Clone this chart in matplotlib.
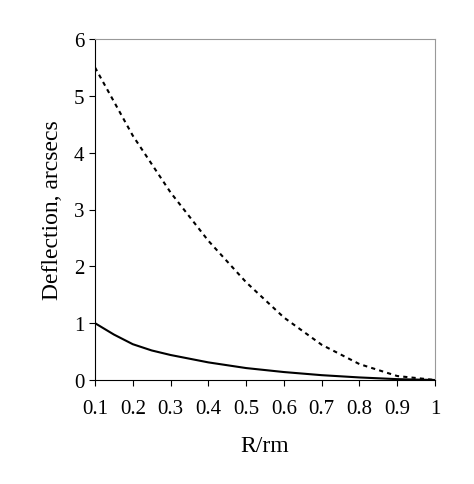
import matplotlib
matplotlib.use("Agg")
import matplotlib.pyplot as plt

x = [0.1, 0.15, 0.2, 0.25, 0.3, 0.4, 0.5, 0.6, 0.7, 0.8, 0.9, 1.0]
dashed = [5.5, 4.9, 4.3, 3.8, 3.3, 2.45, 1.72, 1.1, 0.62, 0.28, 0.07, 0.0]
solid = [1.0, 0.8, 0.63, 0.52, 0.44, 0.31, 0.21, 0.14, 0.085, 0.045, 0.015, 0.0]

plt.rcParams['font.family'] = ['Liberation Serif']
fig = plt.figure(figsize=(4.74, 4.85), dpi=100)
ax = fig.add_axes([95/474, 1-381/485, 340/474, 341/485])
ax.plot(x, dashed, color='black', linestyle=(0, (2, 2)), lw=1.5)
ax.plot(x, solid, color='black', lw=1.5)
ax.set_xlim(0.1, 1.0)
ax.set_ylim(0, 6)
ax.set_xticks([0.1, 0.2, 0.3, 0.4, 0.5, 0.6, 0.7, 0.8, 0.9, 1.0])
ax.set_xticklabels(['0.1', '0.2', '0.3', '0.4', '0.5', '0.6', '0.7', '0.8', '0.9', '1'])
ax.set_yticks(range(7))
ax.tick_params(labelsize=15, direction='out', length=4)
ax.tick_params(axis='x', pad=10)
for s in ['top', 'right']:
    ax.spines[s].set_color('#999999')
ax.set_xlabel('R/rm', fontsize=17, labelpad=12)
ax.set_ylabel('Deflection, arcsecs', fontsize=17, labelpad=8)
fig.savefig('out.png', dpi=100)
